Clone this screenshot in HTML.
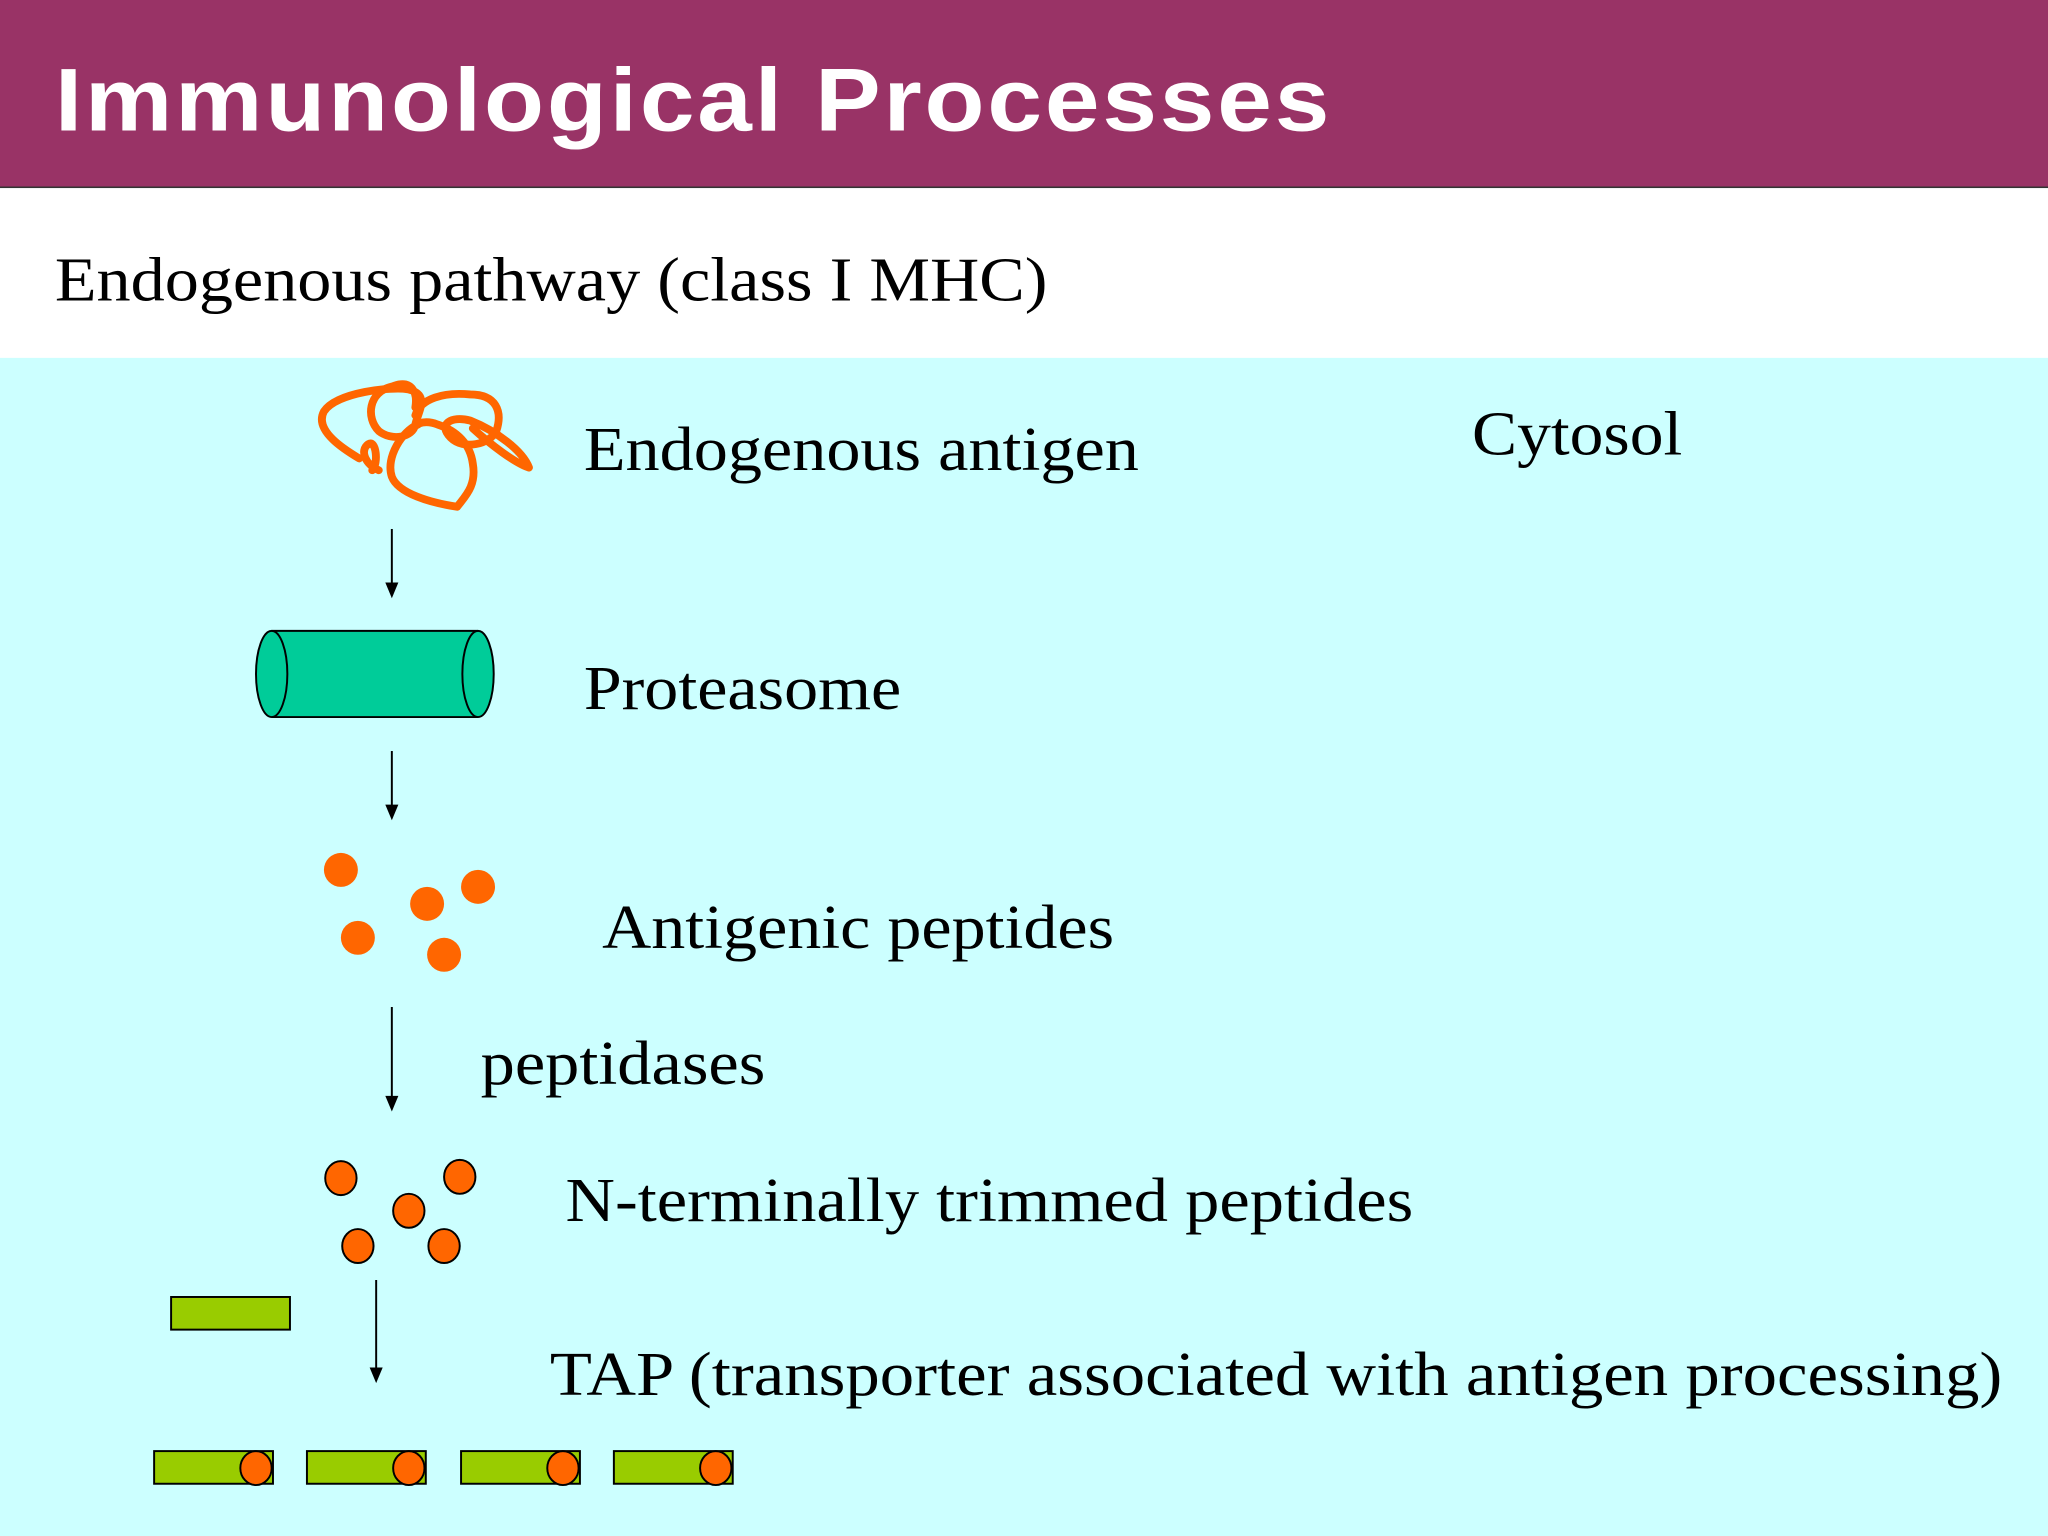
<!DOCTYPE html>
<html><head><meta charset="utf-8"><style>
html,body{margin:0;padding:0;width:2048px;height:1536px;overflow:hidden;background:#fff}
svg{display:block}
</style></head><body>
<svg width="2048" height="1536" viewBox="0 0 1568 1176" xmlns="http://www.w3.org/2000/svg">
<rect x="0" y="0" width="1568" height="144" fill="#993366"/>
<line x1="0" y1="143.5" x2="1568" y2="143.5" stroke="#333" stroke-width="1.5"/>
<text x="42" y="100" font-family="Liberation Sans, sans-serif" font-weight="bold" font-size="68" fill="#fff" textLength="978" lengthAdjust="spacingAndGlyphs" letter-spacing="2">Immunological Processes</text>
<rect x="0" y="144" width="1568" height="130" fill="#fff"/>
<text x="42" y="230" font-family="Liberation Serif, serif" font-size="48" fill="#000" textLength="760" lengthAdjust="spacingAndGlyphs">Endogenous pathway (class I MHC)</text>
<rect x="0" y="274" width="1568" height="902" fill="#CCFFFF"/>
<g font-family="Liberation Serif, serif" font-size="48" fill="#000">
<text x="447" y="360" textLength="425" lengthAdjust="spacingAndGlyphs">Endogenous antigen</text>
<text x="1127" y="348" textLength="161" lengthAdjust="spacingAndGlyphs">Cytosol</text>
<text x="447" y="543" textLength="243" lengthAdjust="spacingAndGlyphs">Proteasome</text>
<text x="461" y="726" textLength="392" lengthAdjust="spacingAndGlyphs">Antigenic peptides</text>
<text x="368" y="830" textLength="218" lengthAdjust="spacingAndGlyphs">peptidases</text>
<text x="433" y="935" textLength="649" lengthAdjust="spacingAndGlyphs">N-terminally trimmed peptides</text>
<text x="421" y="1068" textLength="1112" lengthAdjust="spacingAndGlyphs">TAP (transporter associated with antigen processing)</text>
</g>
<path d="M275,351 C265,345 240,330 248,315 C258,300 300,296 312,298 C330,302 320,315 318,325 C316,335 300,338 290,330 C280,320 282,300 300,296 C315,290 320,300 318,312 M290,360 C280,356 275,345 282,340 C288,336 290,355 285,360 M320,325 C308,330 295,350 300,365 C305,378 330,385 350,388 C356,380 365,372 362,355 C360,340 350,330 335,325 C322,320 315,328 320,325 M318,318 C322,305 340,300 360,302 C380,302 385,315 380,330 C375,340 355,345 345,335 C335,325 345,318 360,322 C380,330 400,345 405,358 C395,355 375,340 362,328" fill="none" stroke="#FF6600" stroke-width="6" stroke-linecap="round" stroke-linejoin="round"/>
<g stroke="#000" stroke-width="1.5">
<line x1="300" y1="405" x2="300" y2="448"/>
<line x1="300" y1="575" x2="300" y2="618"/>
<line x1="300" y1="771" x2="300" y2="841"/>
<line x1="288" y1="980" x2="288" y2="1049"/>
</g>
<g fill="#000">
<path d="M295,446 L305,446 L300,458 Z"/>
<path d="M295,616 L305,616 L300,628 Z"/>
<path d="M295,839 L305,839 L300,851 Z"/>
<path d="M283,1047 L293,1047 L288,1059 Z"/>
</g>
<g stroke="#000" stroke-width="1.5" fill="#00CC99">
<rect x="208" y="483" width="158" height="66" stroke="none"/>
<line x1="208" y1="483" x2="366" y2="483"/>
<line x1="208" y1="549" x2="366" y2="549"/>
<ellipse cx="208" cy="516" rx="12" ry="33"/>
<ellipse cx="366" cy="516" rx="12" ry="33"/>
</g>
<g fill="#FF6600">
<circle cx="261" cy="666" r="13"/><circle cx="327" cy="692" r="13"/><circle cx="366" cy="679" r="13"/><circle cx="274" cy="718" r="13"/><circle cx="340" cy="731" r="13"/>
</g>
<g fill="#FF6600" stroke="#000" stroke-width="1.5">
<ellipse cx="261" cy="902" rx="12" ry="13"/><ellipse cx="352" cy="901" rx="12" ry="13"/><ellipse cx="313" cy="927" rx="12" ry="13"/><ellipse cx="274" cy="954" rx="12" ry="13"/><ellipse cx="340" cy="954" rx="12" ry="13"/>
</g>
<g fill="#99CC00" stroke="#000" stroke-width="1.5">
<rect x="131" y="993" width="91" height="25"/>
<rect x="118" y="1111" width="91" height="25"/>
<rect x="235" y="1111" width="91" height="25"/>
<rect x="353" y="1111" width="91" height="25"/>
<rect x="470" y="1111" width="91" height="25"/>
</g>
<g fill="#FF6600" stroke="#000" stroke-width="1.5">
<ellipse cx="196" cy="1124" rx="12" ry="13"/><ellipse cx="313" cy="1124" rx="12" ry="13"/><ellipse cx="431" cy="1124" rx="12" ry="13"/><ellipse cx="548" cy="1124" rx="12" ry="13"/>
</g>
</svg>
</body></html>
